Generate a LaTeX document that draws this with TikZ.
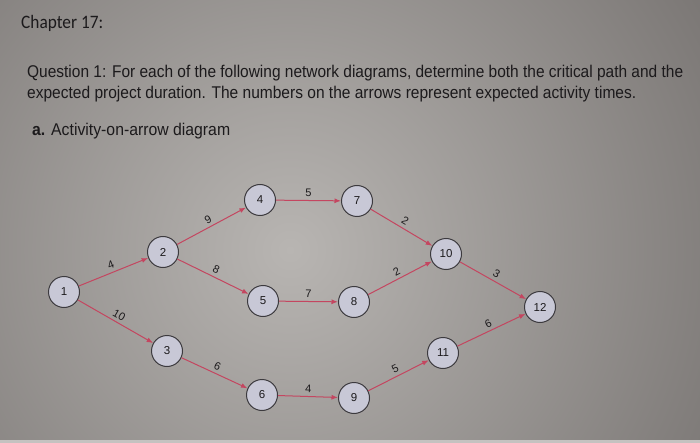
\documentclass[tikz,border=0pt]{standalone}
\usepackage{fontspec}
\usepackage{graphicx}
\setmainfont{Liberation Sans}
\newfontfamily\chapfont{Carlito}
\usetikzlibrary{arrows.meta}
\definecolor{bgin}{RGB}{184,181,178}
\definecolor{bgout}{RGB}{116,112,110}
\definecolor{bgstrip}{RGB}{196,194,192}
\definecolor{nodefill}{RGB}{200,200,214}
\definecolor{nodeline}{RGB}{60,58,62}
\definecolor{arrowred}{RGB}{196,70,96}
\definecolor{txt}{RGB}{28,26,28}
\begin{document}
\begin{tikzpicture}[x=1pt,y=-1pt,
  ev/.style={circle,draw=nodeline,line width=1pt,fill=nodefill,minimum size=31pt,inner sep=0pt,font=\fontsize{11.5}{13}\selectfont,text=txt},
  act/.style={draw=arrowred,line width=1pt,-{Latex[length=6.5pt,width=5pt]}},
  lab/.style={sloped,above,font=\fontsize{11}{13}\selectfont,text=txt,inner sep=3pt},
  ttl/.style={anchor=base west,inner sep=0pt,text=txt}]
\useasboundingbox (0,0) rectangle (700,443);
\begin{scope}
  \clip (0,0) rectangle (700,443);
  \fill[bgout] (0,0) rectangle (700,443);
  \shade[inner color=bgin,outer color=bgout] (290,250) circle (540);
  \fill[bgstrip] (0,440) rectangle (700,443);
\end{scope}
% texts
\node[ttl] (chap) at (21,29) {\resizebox{82pt}{\height}{\chapfont\fontsize{19}{22}\selectfont Chapter 17:}};
\node[ttl] (q1) at (27,78) {\resizebox{656pt}{\height}{\fontsize{17}{20}\selectfont Question 1: For each of the following network diagrams, determine both the critical path and the}};
\node[ttl] (q2) at (27,99) {\resizebox{609pt}{\height}{\fontsize{17}{20}\selectfont expected project duration. The numbers on the arrows represent expected activity times.}};
\node[ttl] (qa) at (32,136) {\resizebox{198pt}{\height}{\fontsize{17}{20}\selectfont \textbf{a.} Activity-on-arrow diagram}};
% events
\node[ev] (n1) at (64,292) {1};
\node[ev] (n2) at (163,252) {2};
\node[ev] (n3) at (167,351) {3};
\node[ev] (n4) at (260,200) {4};
\node[ev] (n5) at (263,301) {5};
\node[ev] (n6) at (262,395) {6};
\node[ev] (n7) at (357,201) {7};
\node[ev] (n8) at (354,302) {8};
\node[ev] (n9) at (354,398) {9};
\node[ev] (n10) at (446,254) {10};
\node[ev] (n11) at (443,353) {11};
\node[ev] (n12) at (540,307) {12};
% activities
\draw[act] (n1) -- node[lab] {4} (n2);
\draw[act] (n1) -- node[lab] {10} (n3);
\draw[act] (n2) -- node[lab] {9} (n4);
\draw[act] (n2) -- node[lab] {8} (n5);
\draw[act] (n3) -- node[lab] {6} (n6);
\draw[act] (n4) -- node[lab] {5} (n7);
\draw[act] (n5) -- node[lab] {7} (n8);
\draw[act] (n6) -- node[lab] {4} (n9);
\draw[act] (n7) -- node[lab] {2} (n10);
\draw[act] (n8) -- node[lab] {2} (n10);
\draw[act] (n9) -- node[lab] {5} (n11);
\draw[act] (n10) -- node[lab] {3} (n12);
\draw[act] (n11) -- node[lab] {6} (n12);
\end{tikzpicture}
\end{document}
